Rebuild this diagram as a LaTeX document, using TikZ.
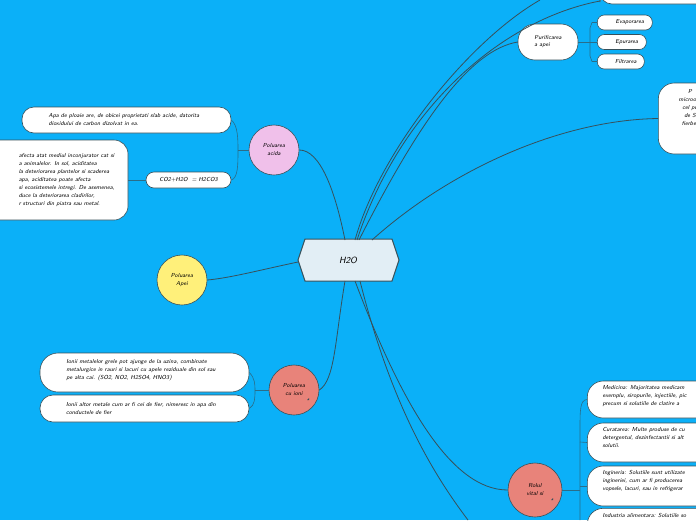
\documentclass[tikz,border=0pt]{standalone}
\definecolor{bg}{HTML}{0BB0F8}
\definecolor{ln}{HTML}{37505A}
\definecolor{pinkc}{HTML}{F0C0EA}
\definecolor{yelc}{HTML}{FFF07A}
\definecolor{salc}{HTML}{E8837A}
\definecolor{hexc}{HTML}{E2EEF5}
\begin{document}
\begin{tikzpicture}[x=1pt,y=-1pt,
  txt/.style={font=\sffamily\itshape\fontsize{5.8}{8}\selectfont},
  wbox/.style={txt,draw=ln,fill=white,rounded corners=12pt,line width=0.6pt,inner sep=0pt},
  circ/.style={txt,circle,draw=ln,line width=0.6pt,minimum size=50pt,align=center,inner sep=0pt},
  conn/.style={ln,line width=0.8pt},
  sub/.style={draw=ln!70!bg,line width=0.6pt}]
\useasboundingbox (0,0) rectangle (696,520);
\fill[bg] (0,0) rectangle (696,520);
% centre
\draw[conn,fill=hexc,line width=1pt] (305,239) -- (392,239) -- (399,260) -- (392,281) -- (305,281) -- (298,260) -- cycle;
\node[font=\sffamily\itshape\small] (h) at (348,260) {H2O};
\coordinate (hN) at (355,240);
% nodes
\node[wbox,minimum width=60pt,minimum height=36pt,rounded corners=17pt,align=left] (pur) at (548,42) {Purificarea\\[-1pt]a apei};
\node[wbox,minimum width=55pt,minimum height=15pt,anchor=west,rounded corners=7pt] (ev) at (597,22.5) {\hspace{10pt}Evaporarea\hfill};
\node[wbox,minimum width=49pt,minimum height=15pt,anchor=west,rounded corners=7pt] (ep) at (597,42) {\hspace{10pt}Epurarea\hfill};
\node[wbox,minimum width=47pt,minimum height=15pt,anchor=west,rounded corners=7pt] (fi) at (597,61.5) {\hspace{10pt}Filtrarea\hfill};
\node[wbox,minimum width=70pt,minimum height=71pt,anchor=west,rounded corners=16pt] (rt) at (658,118.5) {};
\node[txt,align=center,anchor=north] (rtt) at (690,86) {P\\microorg\\cel pu\\de S\\fierber};
\draw[wbox] (600,-10) rectangle (720,4);
\coordinate (topb) at (600,1);
\coordinate (topl) at (540,0);
\node[circ,fill=pinkc] (pa) at (274,150) {Poluarea\\acida};
\node[wbox,minimum width=209pt,minimum height=26pt] (b1) at (126.5,120) {};
\node[txt,align=left] at (124,120) {Apa de ploaie are, de obicei proprietati slab acide, datorita\\dioxidului de carbon dizolvat in ea.};
\node[wbox,minimum width=85pt,minimum height=16pt,rounded corners=8pt] (co) at (188.5,180) {CO2+H2O\ \ = H2CO3};
\node[wbox,minimum width=160pt,minimum height=80pt,rounded corners=14pt] (big) at (48,180) {};
\node[txt,align=left,anchor=east] at (118,180) {afecta atat mediul inconjurator cat si\\a animalelor. In sol, aciditatea\\la deteriorarea plantelor si scaderea\\apa, aciditatea poate afecta\\si ecosistemele intregi. De asemenea,\\duce la deteriorarea cladirilor,\\r structuri din piatra sau metal.};
\node[circ,fill=yelc] (pap) at (182,280) {Poluarea\\Apei};
\node[circ,fill=salc] (pci) at (294,390) {Poluarea\\cu ioni};
\node[wbox,minimum width=209pt,minimum height=39pt,rounded corners=18pt] (i1) at (144.5,372.5) {};
\node[txt,align=left] at (141,370.5) {Ionii metalelor grele pot ajunge de la uzina, combinate\\metalurgice in rauri si lacuri cu apele reziduale din sol sau\\pe alta cai. (SO2, NO2, H2SO4, HNO3)};
\node[wbox,minimum width=209pt,minimum height=27pt,rounded corners=13pt] (i2) at (144.5,408.5) {};
\node[txt,align=left] at (141,408.5) {Ionii altor metale cum ar fi cei de fier, nimeresc in apa din\\conductele de fier};
\node[circ,fill=salc,minimum size=54pt] (rv) at (535,490) {Rolul\\vital si};
\node[wbox,minimum width=130pt,minimum height=37pt,anchor=west,rounded corners=16pt] (m1) at (587,399.5) {};
\node[txt,align=left,anchor=north west] at (599,382) {Medicina: Majoritatea medicam\\exemplu, siropurile, injectiile, pic\\precum si solutiile de clatire a};
\node[wbox,minimum width=130pt,minimum height=39pt,anchor=west,rounded corners=16pt] (m2) at (587,442.5) {};
\node[txt,align=left,anchor=north west] at (599,424) {Curatarea: Multe produse de cu\\detergentul, dezinfectantii si alt\\solutii.};
\node[wbox,minimum width=130pt,minimum height=40pt,anchor=west,rounded corners=16pt] (m3) at (587,486) {};
\node[txt,align=left,anchor=north west] at (599,467) {Ingineria: Solutiile sunt utilizate\\ingineriei, cum ar fi producerea\\vopsele, lacuri, sau in refrigerar};
\node[wbox,minimum width=130pt,minimum height=30pt,anchor=north west,rounded corners=16pt] (m4) at (587,508) {};
\node[txt,align=left,anchor=north west] at (599,510) {Industria alimentara: Solutiile so};
\coordinate (bot) at (468,520);
% corner markers
\fill[ln] (307,400) -- (309,398) -- (309,400) -- cycle;
\fill[ln] (551,500) -- (553,498) -- (553,500) -- cycle;
% connectors from centre
\draw[conn] (hN) .. controls (380,150) and (470,40) .. (topl);
\draw[conn] (357,240) .. controls (400,110) and (500,20) .. (topb);
\draw[conn] (359,240) .. controls (420,120) and (470,50) .. (pur.west);
\draw[conn] (372,240) .. controls (450,170) and (560,120) .. (rt.west);
\draw[conn] (345,240) .. controls (335,190) and (320,150) .. (pa.east);
\draw[conn] (298,262) .. controls (260,270) and (230,278) .. (pap.east);
\draw[conn] (345,281) .. controls (335,340) and (335,380) .. (pci.east);
\draw[conn] (355,281) .. controls (400,400) and (450,490) .. (rv.west);
\draw[conn] (360,281) .. controls (390,400) and (430,470) .. (bot);
% sub connectors
\draw[sub] (pur.east) -- (590,42);
\draw[sub] (ev.west) -- (592,22.5) -- (590,28) -- (590,56) -- (592,61.5) -- (fi.west);
\draw[sub] (590,42) -- (ep.west);
\draw[sub] (pa.west) -- (238,150);
\draw[sub] (b1.east) .. controls (238,125) and (238,140) .. (238,150) .. controls (238,165) and (238,178) .. (co.east);
\draw[sub] (co.west) -- (big.east);
\draw[sub] (pci.west) -- (255,390);
\draw[sub] (i1.east) .. controls (255,378) and (255,385) .. (255,390) .. controls (255,398) and (255,405) .. (i2.east);
\draw[sub] (rv.east) -- (580,490);
\draw[sub] (m1.west) .. controls (580,400) and (580,410) .. (580,430) -- (580,520);
\draw[sub] (580,442) -- (m2.west);
\draw[sub] (580,486) -- (m3.west);
\end{tikzpicture}
\end{document}
